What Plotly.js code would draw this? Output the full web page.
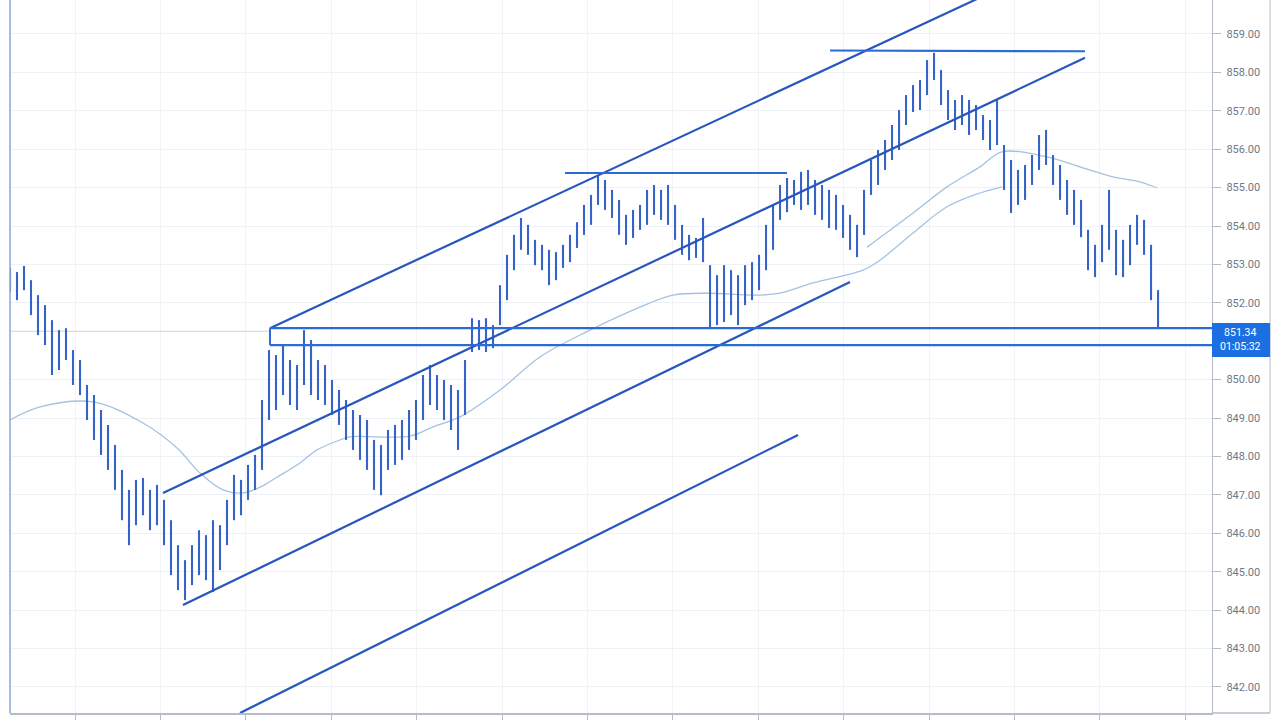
<!DOCTYPE html>
<html>
<head>
<meta charset="utf-8">
<script src="https://cdn.plot.ly/plotly-3.0.1.min.js"></script>
<style>html,body{margin:0;padding:0;background:#fff;}#chart{width:1280px;height:720px;}</style>
</head>
<body>
<div id="chart"></div>
<script>
// ---- price bars (bar index, high, low) ----
const barHigh = [852.91,852.80,852.96,852.59,852.20,851.94,851.55,851.29,851.34,850.77,
850.51,849.86,849.60,849.21,848.82,848.30,847.65,847.13,847.39,847.44,
847.13,847.26,846.87,846.34,845.69,845.30,845.69,846.08,845.95,846.34,
846.21,846.87,847.52,847.39,847.78,848.04,849.47,850.77,850.64,850.90,
850.51,850.38,851.29,851.03,850.51,850.38,849.99,849.73,849.47,849.21,
849.08,848.95,848.43,848.30,848.69,848.82,848.95,849.21,849.47,850.12,
850.38,850.12,849.99,849.86,849.73,850.51,851.60,851.55,851.60,851.42,
852.46,853.25,853.77,854.21,854.03,853.64,853.51,853.38,853.32,853.51,
853.77,854.10,854.55,854.81,855.33,855.20,854.94,854.68,854.29,854.42,
854.55,854.94,855.07,854.94,855.07,854.55,854.03,853.77,853.69,854.21,
852.98,852.72,852.98,852.85,852.72,852.98,853.06,853.25,854.03,854.55,
855.07,855.25,855.20,855.41,855.46,855.20,855.07,854.94,854.81,854.55,
854.29,854.03,854.94,855.72,855.98,856.24,856.63,857.02,857.41,857.67,
857.80,858.32,858.51,858.06,857.54,857.28,857.41,857.28,857.15,856.89,
856.76,857.28,856.11,855.72,855.46,855.59,855.85,856.37,856.50,855.85,
855.59,855.20,854.94,854.68,853.90,853.51,854.03,854.94,853.90,853.64,
854.03,854.29,854.16,853.51,852.33];
const barLow = [852.28,852.07,852.33,851.68,851.16,850.90,850.12,850.25,850.51,849.86,
849.60,848.95,848.43,848.04,847.65,847.13,846.34,845.69,846.21,846.47,
846.08,846.21,845.69,844.91,844.52,844.26,844.65,844.91,844.78,844.47,
845.04,845.69,846.34,846.47,846.87,847.13,847.65,848.95,849.21,849.60,
849.34,849.21,849.86,849.60,849.47,849.34,849.08,848.82,848.43,848.17,
847.91,847.65,847.13,846.99,847.65,847.78,847.91,848.17,848.43,848.95,
849.34,849.21,848.95,848.69,848.17,849.08,850.72,850.77,850.72,850.82,
851.42,852.07,852.85,853.38,853.25,852.98,852.85,852.46,852.59,852.91,
853.06,853.43,853.77,854.03,854.55,854.42,854.21,853.77,853.51,853.69,
853.90,854.03,854.29,854.16,854.03,853.64,853.25,853.11,853.17,853.06,
851.37,851.42,851.50,851.68,851.42,851.94,852.07,852.33,852.85,853.38,
854.16,854.36,854.55,854.42,854.55,854.29,854.16,853.95,853.90,853.69,
853.38,853.19,853.77,854.81,855.07,855.46,855.72,855.98,856.63,856.97,
857.02,857.41,857.80,857.15,856.76,856.50,856.63,856.37,856.50,856.24,
855.98,856.11,854.94,854.34,854.55,854.68,855.07,855.46,855.59,855.07,
854.68,854.29,854.03,853.71,852.85,852.67,853.06,853.38,852.72,852.67,
852.98,853.51,853.25,852.07,851.34];

// ---- moving averages ----
const maSlowX = [0,4.29,11.86,19.0,23.86,27.14,30.43,33.29,35.71,38.14,41.43,43.86,47.14,48.57,57.14,60.43,64.29,70.0,75.71,82.86,90.0,94.71,99.57,106.71,110.0,114.71,121.86,124.29,129.0,133.86,138.57,141.71];
const maSlowY = [848.95,849.29,849.42,848.87,848.22,847.57,847.13,847.05,847.20,847.46,847.83,848.17,848.43,848.51,848.53,848.77,849.03,849.73,850.59,851.29,851.89,852.20,852.25,852.20,852.25,852.52,852.85,853.11,853.82,854.50,854.86,855.02];
const maFastX = [122.43,129.0,133.86,138.57,141.71,148.14,152.86,157.57,161.43,163.86];
const maFastY = [853.45,854.34,855.02,855.54,855.93,855.80,855.54,855.28,855.15,854.99];

// ---- drawn trend lines (bar index, price) ----
const channelTopX = [37.14,140.0],  channelTopY = [851.34,860.07];
const channelMidX = [21.86,153.57], channelMidY = [847.05,858.38];
const channelLowX = [24.71,120.0],  channelLowY = [844.13,852.54];
const channelExtX = [32.86,112.57], channelExtY = [841.32,848.56];
const resistAX = [79.29,111.0],  resistAY = [855.38,855.38];
const resistBX = [117.14,153.57], resistBY = [858.57,858.55];
const supportX = [37.14,171.71];
const supportTop = 851.34, supportBottom = 850.90, lastLine = 851.26;
const lastPrice = "851.34", lastTime = "01:05:32";

// ---- axis ticks (851 sits under the price tag) ----
const yTickVals = [859,858,857,856,855,854,853,852,850,849,848,847,846,845,844,843,842];
const yTickText = yTickVals.map(v => v.toFixed(2));

// build bar segments
const bx = [], by = [];
for (let i = 0; i < barHigh.length; i++) {
  bx.push(i, i, null); by.push(barLow[i], barHigh[i], null);
}

const trendColor = '#2756bd';
const horizColor = '#2a6bd6';
const traces = [
  {x:[0,37.14], y:[lastLine,lastLine], mode:'lines', line:{color:'#cdd5e1', width:1.2}, hoverinfo:'skip'},
  {x:maSlowX, y:maSlowY, mode:'lines', line:{color:'#a3c3e3', width:1.3, shape:'spline'}, hoverinfo:'skip'},
  {x:maFastX, y:maFastY, mode:'lines', line:{color:'#a3c3e3', width:1.3, shape:'spline'}, hoverinfo:'skip'},
  {x:bx, y:by, mode:'lines', line:{color:'#3563c8', width:2.1}, connectgaps:false, hoverinfo:'skip'},
  {x:channelTopX, y:channelTopY, mode:'lines', line:{color:trendColor, width:2.2}},
  {x:channelMidX, y:channelMidY, mode:'lines', line:{color:trendColor, width:2.2}},
  {x:channelLowX, y:channelLowY, mode:'lines', line:{color:trendColor, width:2.2}},
  {x:channelExtX, y:channelExtY, mode:'lines', line:{color:trendColor, width:2.2}},
  {x:resistAX, y:resistAY, mode:'lines', line:{color:horizColor, width:2.2}},
  {x:resistBX, y:resistBY, mode:'lines', line:{color:horizColor, width:2.2}},
  {x:supportX, y:[supportTop,supportTop], mode:'lines', line:{color:horizColor, width:2.2}},
  {x:supportX, y:[supportBottom,supportBottom], mode:'lines', line:{color:horizColor, width:2.2}},
  {x:[supportX[0],supportX[0]], y:[supportBottom,supportTop], mode:'lines', line:{color:horizColor, width:2}}
];

const layout = {
  width:1280, height:720,
  margin:{l:10, r:68, t:0, b:7},
  paper_bgcolor:'#ffffff', plot_bgcolor:'#ffffff',
  showlegend:false,
  xaxis:{range:[0,171.71], showticklabels:false, ticks:'outside', ticklen:7, tickcolor:'#b5bcc8',
         tick0:9.29, dtick:12.2, showgrid:true, gridcolor:'#f1f3f7', zeroline:false,
         showline:true, linecolor:'#b5bcc8', linewidth:1.5, fixedrange:true},
  yaxis:{side:'right', range:[841.32,859.885], tickvals:yTickVals, ticktext:yTickText,
         ticks:'outside', ticklen:8, tickcolor:'#b5bcc8', showgrid:true, gridcolor:'#eef1f5',
         zeroline:false, showline:true, linecolor:'#b5bcc8', linewidth:1.2, ticklabelstandoff:3,
         tickfont:{family:'Roboto, Arial, sans-serif', size:11, color:'#707886'}, fixedrange:true},
  shapes:[
    {type:'line', xref:'paper', yref:'paper', x0:0, x1:0, y0:0, y1:1, line:{color:'#8ea6d2', width:1.5}},
    {type:'line', xref:'paper', yref:'paper', x0:1.0483, x1:1.0483, y0:0, y1:1, line:{color:'#c3c9d3', width:1.2}},
    {type:'line', xref:'paper', yref:'paper', x0:1, x1:1.0483, y0:0, y1:0, line:{color:'#b5bcc8', width:1.5}},
    {type:'rect', xref:'paper', yref:'paper', x0:1.0, x1:1.0483, y0:0.4993, y1:0.547, fillcolor:'#1c6fe3', line:{width:0}}
  ],
  annotations:[
    {xref:'paper', yref:'paper', x:1.0241, y:0.5232, xanchor:'center', yanchor:'middle',
     text:lastPrice+'<br>'+lastTime, showarrow:false,
     font:{family:'Roboto, Arial, sans-serif', size:10.5, color:'#ffffff'}, align:'center'}
  ]
};
Plotly.newPlot('chart', traces, layout, {displayModeBar:false, staticPlot:true});
</script>
</body>
</html>
